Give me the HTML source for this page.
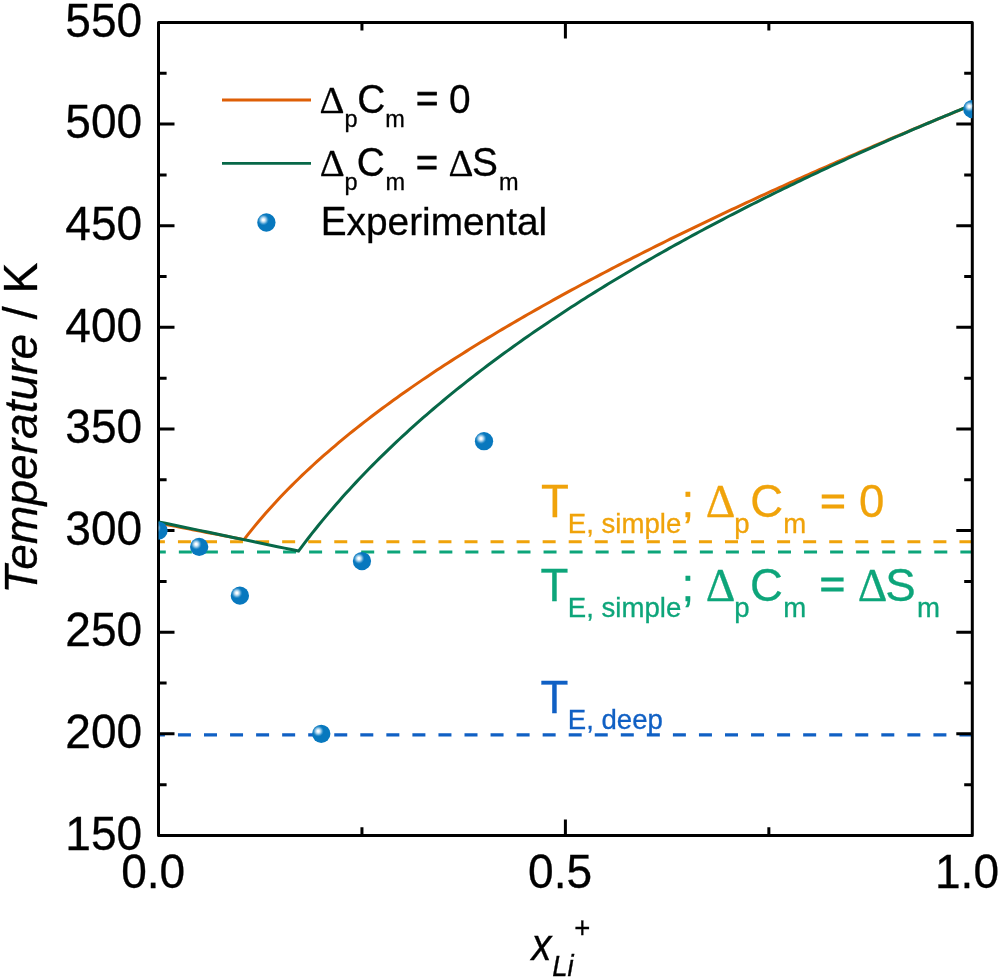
<!DOCTYPE html>
<html lang="en"><head><meta charset="utf-8"><title>Phase diagram</title>
<style>html,body{margin:0;padding:0;background:#fff}body{width:1000px;height:980px;overflow:hidden}svg{display:block;filter:blur(0.4px)}</style>
</head><body>
<svg width="1000" height="980" viewBox="0 0 1000 980">
<defs>
<radialGradient id="ball" cx="0.335" cy="0.355" r="0.30"><stop offset="0" stop-color="#ffffff"/><stop offset="0.18" stop-color="#fbfdff"/><stop offset="0.5" stop-color="#9ccbe9"/><stop offset="0.8" stop-color="#2f8fcb"/><stop offset="1" stop-color="#0878be"/></radialGradient>
<clipPath id="plot"><rect x="158.5" y="22.5" width="813.8" height="812.95"/></clipPath>
</defs>
<rect width="1000" height="980" fill="#ffffff"/>
<path d="M151.9 541.70H972.3" stroke="#F0A30A" stroke-width="3.0" stroke-dasharray="13 13.05" fill="none" clip-path="url(#plot)"/>
<path d="M152.8 552.00H972.3" stroke="#0DA57A" stroke-width="3.0" stroke-dasharray="13 13.05" fill="none" clip-path="url(#plot)"/>
<path d="M151.9 734.90H972.3" stroke="#1060C4" stroke-width="3.2" stroke-dasharray="13 13.05" fill="none" clip-path="url(#plot)"/>
<path d="M158.5 784.64h8.1M972.3 784.64h-8.1M158.5 733.83h16.0M972.3 733.83h-16.0M158.5 683.02h8.1M972.3 683.02h-8.1M158.5 632.21h16.0M972.3 632.21h-16.0M158.5 581.40h8.1M972.3 581.40h-8.1M158.5 530.59h16.0M972.3 530.59h-16.0M158.5 479.78h8.1M972.3 479.78h-8.1M158.5 428.98h16.0M972.3 428.98h-16.0M158.5 378.17h8.1M972.3 378.17h-8.1M158.5 327.36h16.0M972.3 327.36h-16.0M158.5 276.55h8.1M972.3 276.55h-8.1M158.5 225.74h16.0M972.3 225.74h-16.0M158.5 174.93h8.1M972.3 174.93h-8.1M158.5 124.12h16.0M972.3 124.12h-16.0M158.5 73.31h8.1M972.3 73.31h-8.1M361.95 835.45v-8.1M361.95 22.5v8.1M565.40 835.45v-16.0M565.40 22.5v16.0M768.85 835.45v-8.1M768.85 22.5v8.1" stroke="#000" stroke-width="3.0" fill="none"/>
<rect x="158.5" y="22.5" width="813.8" height="812.95" stroke="#000" stroke-width="3.0" fill="none" stroke-linejoin="round"/>
<g clip-path="url(#plot)" fill="none" stroke-linejoin="miter" stroke-width="3.0">
<path d="M158.50 523.07 L162.78 523.90 L167.05 524.73 L171.32 525.55 L175.60 526.38 L179.88 527.21 L184.15 528.04 L188.43 528.86 L192.70 529.69 L196.97 530.52 L201.25 531.34 L205.53 532.17 L209.80 533.00 L214.08 533.83 L218.35 534.65 L222.62 535.48 L226.90 536.31 L231.18 537.13 L235.45 537.96 L239.73 538.79 L244.00 539.61 L247.64 534.91 L251.28 530.32 L254.92 525.85 L258.57 521.47 L262.21 517.20 L265.85 513.01 L269.49 508.91 L273.13 504.89 L276.77 500.95 L280.42 497.08 L284.06 493.28 L287.70 489.55 L291.34 485.88 L294.98 482.26 L298.62 478.71 L302.26 475.20 L305.91 471.75 L309.55 468.35 L313.19 465.00 L316.83 461.69 L320.47 458.43 L324.11 455.20 L327.75 452.02 L331.40 448.88 L335.04 445.77 L338.68 442.71 L342.32 439.67 L345.96 436.67 L349.60 433.70 L353.25 430.77 L356.89 427.86 L360.53 424.99 L364.17 422.14 L367.81 419.32 L371.45 416.53 L375.09 413.76 L378.74 411.02 L382.38 408.31 L386.02 405.61 L389.66 402.94 L393.30 400.30 L396.94 397.67 L400.58 395.07 L404.23 392.49 L407.87 389.93 L411.51 387.39 L415.15 384.87 L418.79 382.37 L422.43 379.88 L426.07 377.41 L429.72 374.97 L433.36 372.53 L437.00 370.12 L440.64 367.72 L444.28 365.34 L447.92 362.97 L451.57 360.62 L455.21 358.29 L458.85 355.97 L462.49 353.66 L466.13 351.37 L469.77 349.09 L473.41 346.82 L477.06 344.57 L480.70 342.33 L484.34 340.10 L487.98 337.89 L491.62 335.69 L495.26 333.50 L498.90 331.32 L502.55 329.16 L506.19 327.00 L509.83 324.86 L513.47 322.72 L517.11 320.60 L520.75 318.49 L524.40 316.39 L528.04 314.30 L531.68 312.22 L535.32 310.15 L538.96 308.09 L542.60 306.03 L546.24 303.99 L549.89 301.96 L553.53 299.93 L557.17 297.92 L560.81 295.91 L564.45 293.91 L568.09 291.92 L571.74 289.94 L575.38 287.97 L579.02 286.01 L582.66 284.05 L586.30 282.10 L589.94 280.16 L593.58 278.23 L597.23 276.30 L600.87 274.38 L604.51 272.47 L608.15 270.57 L611.79 268.67 L615.43 266.78 L619.07 264.90 L622.72 263.02 L626.36 261.15 L630.00 259.29 L633.64 257.43 L637.28 255.58 L640.92 253.74 L644.57 251.90 L648.21 250.07 L651.85 248.24 L655.49 246.42 L659.13 244.61 L662.77 242.80 L666.41 241.00 L670.06 239.20 L673.70 237.41 L677.34 235.63 L680.98 233.85 L684.62 232.08 L688.26 230.31 L691.90 228.54 L695.55 226.79 L699.19 225.03 L702.83 223.28 L706.47 221.54 L710.11 219.80 L713.75 218.07 L717.39 216.34 L721.04 214.62 L724.68 212.90 L728.32 211.19 L731.96 209.48 L735.60 207.77 L739.24 206.07 L742.89 204.38 L746.53 202.69 L750.17 201.00 L753.81 199.32 L757.45 197.64 L761.09 195.97 L764.73 194.30 L768.38 192.63 L772.02 190.97 L775.66 189.31 L779.30 187.66 L782.94 186.01 L786.58 184.36 L790.23 182.72 L793.87 181.08 L797.51 179.45 L801.15 177.82 L804.79 176.19 L808.43 174.57 L812.07 172.95 L815.72 171.33 L819.36 169.72 L823.00 168.11 L826.64 166.51 L830.28 164.91 L833.92 163.31 L837.56 161.71 L841.21 160.12 L844.85 158.53 L848.49 156.95 L852.13 155.37 L855.77 153.79 L859.41 152.21 L863.05 150.64 L866.70 149.07 L870.34 147.51 L873.98 145.94 L877.62 144.38 L881.26 142.83 L884.90 141.27 L888.55 139.72 L892.19 138.17 L895.83 136.63 L899.47 135.09 L903.11 133.55 L906.75 132.01 L910.39 130.48 L914.04 128.95 L917.68 127.42 L921.32 125.89 L924.96 124.37 L928.60 122.85 L932.24 121.33 L935.88 119.82 L939.53 118.31 L943.17 116.80 L946.81 115.29 L950.45 113.79 L954.09 112.28 L957.73 110.78 L961.38 109.29 L965.02 107.79 L968.66 106.30 L972.30 104.81" stroke="#DE5F06"/>
<path d="M158.50 521.85 L165.50 523.31 L172.50 524.77 L179.50 526.23 L186.50 527.69 L193.50 529.15 L200.50 530.61 L207.50 532.07 L214.50 533.53 L221.50 534.99 L228.50 536.45 L235.50 537.91 L242.50 539.37 L249.50 540.83 L256.50 542.29 L263.50 543.75 L270.50 545.21 L277.50 546.67 L284.50 548.13 L291.50 549.58 L298.50 551.04 L301.87 546.54 L305.24 542.11 L308.61 537.74 L311.98 533.44 L315.35 529.21 L318.71 525.03 L322.08 520.92 L325.45 516.86 L328.82 512.86 L332.19 508.91 L335.56 505.01 L338.93 501.16 L342.30 497.36 L345.67 493.61 L349.03 489.91 L352.40 486.24 L355.77 482.63 L359.14 479.05 L362.51 475.51 L365.88 472.02 L369.25 468.56 L372.62 465.14 L375.99 461.75 L379.36 458.40 L382.73 455.09 L386.09 451.81 L389.46 448.56 L392.83 445.34 L396.20 442.16 L399.57 439.00 L402.94 435.88 L406.31 432.78 L409.68 429.72 L413.05 426.68 L416.41 423.67 L419.78 420.68 L423.15 417.72 L426.52 414.79 L429.89 411.88 L433.26 408.99 L436.63 406.13 L440.00 403.30 L443.37 400.48 L446.74 397.69 L450.10 394.92 L453.47 392.18 L456.84 389.45 L460.21 386.74 L463.58 384.06 L466.95 381.39 L470.32 378.75 L473.69 376.12 L477.06 373.52 L480.43 370.93 L483.79 368.36 L487.16 365.81 L490.53 363.27 L493.90 360.75 L497.27 358.25 L500.64 355.77 L504.01 353.31 L507.38 350.86 L510.75 348.42 L514.12 346.00 L517.49 343.60 L520.85 341.21 L524.22 338.84 L527.59 336.48 L530.96 334.14 L534.33 331.81 L537.70 329.50 L541.07 327.20 L544.44 324.91 L547.81 322.64 L551.17 320.38 L554.54 318.13 L557.91 315.90 L561.28 313.68 L564.65 311.47 L568.02 309.27 L571.39 307.09 L574.76 304.92 L578.13 302.76 L581.50 300.61 L584.87 298.47 L588.23 296.35 L591.60 294.23 L594.97 292.13 L598.34 290.04 L601.71 287.96 L605.08 285.89 L608.45 283.83 L611.82 281.78 L615.19 279.74 L618.56 277.71 L621.92 275.70 L625.29 273.69 L628.66 271.69 L632.03 269.70 L635.40 267.72 L638.77 265.75 L642.14 263.79 L645.51 261.84 L648.88 259.90 L652.24 257.97 L655.61 256.04 L658.98 254.13 L662.35 252.22 L665.72 250.32 L669.09 248.43 L672.46 246.55 L675.83 244.68 L679.20 242.82 L682.57 240.96 L685.93 239.11 L689.30 237.27 L692.67 235.44 L696.04 233.62 L699.41 231.80 L702.78 229.99 L706.15 228.19 L709.52 226.40 L712.89 224.61 L716.26 222.83 L719.62 221.06 L722.99 219.30 L726.36 217.54 L729.73 215.79 L733.10 214.05 L736.47 212.31 L739.84 210.58 L743.21 208.86 L746.58 207.14 L749.95 205.43 L753.32 203.73 L756.68 202.04 L760.05 200.35 L763.42 198.66 L766.79 196.99 L770.16 195.32 L773.53 193.65 L776.90 191.99 L780.27 190.34 L783.64 188.70 L787.00 187.06 L790.37 185.42 L793.74 183.80 L797.11 182.17 L800.48 180.56 L803.85 178.95 L807.22 177.34 L810.59 175.74 L813.96 174.15 L817.33 172.56 L820.69 170.98 L824.06 169.40 L827.43 167.83 L830.80 166.26 L834.17 164.70 L837.54 163.15 L840.91 161.60 L844.28 160.05 L847.65 158.51 L851.02 156.98 L854.38 155.45 L857.75 153.92 L861.12 152.40 L864.49 150.89 L867.86 149.38 L871.23 147.87 L874.60 146.37 L877.97 144.88 L881.34 143.39 L884.71 141.90 L888.08 140.42 L891.44 138.94 L894.81 137.47 L898.18 136.00 L901.55 134.54 L904.92 133.08 L908.29 131.63 L911.66 130.18 L915.03 128.74 L918.40 127.29 L921.76 125.86 L925.13 124.43 L928.50 123.00 L931.87 121.57 L935.24 120.16 L938.61 118.74 L941.98 117.33 L945.35 115.92 L948.72 114.52 L952.09 113.12 L955.45 111.73 L958.82 110.33 L962.19 108.95 L965.56 107.57 L968.93 106.19 L972.30 104.81" stroke="#076848"/>
<circle cx="158.50" cy="530.59" r="9.15" fill="url(#ball)" stroke="none"/>
<circle cx="199.19" cy="546.85" r="9.15" fill="url(#ball)" stroke="none"/>
<circle cx="239.88" cy="595.63" r="9.15" fill="url(#ball)" stroke="none"/>
<circle cx="321.26" cy="733.83" r="9.15" fill="url(#ball)" stroke="none"/>
<circle cx="361.95" cy="561.08" r="9.15" fill="url(#ball)" stroke="none"/>
<circle cx="484.02" cy="441.17" r="9.15" fill="url(#ball)" stroke="none"/>
<circle cx="972.30" cy="109.08" r="9.15" fill="url(#ball)" stroke="none"/>
</g>
<text transform="translate(142.20 849.65) scale(1 1.045)" font-family='"Liberation Sans",Arial,sans-serif' font-size="46.1" fill="#000" text-anchor="end" stroke="#000" stroke-width="0.3">150</text>
<text transform="translate(142.20 748.03) scale(1 1.045)" font-family='"Liberation Sans",Arial,sans-serif' font-size="46.1" fill="#000" text-anchor="end" stroke="#000" stroke-width="0.3">200</text>
<text transform="translate(142.20 646.41) scale(1 1.045)" font-family='"Liberation Sans",Arial,sans-serif' font-size="46.1" fill="#000" text-anchor="end" stroke="#000" stroke-width="0.3">250</text>
<text transform="translate(142.20 544.79) scale(1 1.045)" font-family='"Liberation Sans",Arial,sans-serif' font-size="46.1" fill="#000" text-anchor="end" stroke="#000" stroke-width="0.3">300</text>
<text transform="translate(142.20 443.18) scale(1 1.045)" font-family='"Liberation Sans",Arial,sans-serif' font-size="46.1" fill="#000" text-anchor="end" stroke="#000" stroke-width="0.3">350</text>
<text transform="translate(142.20 341.56) scale(1 1.045)" font-family='"Liberation Sans",Arial,sans-serif' font-size="46.1" fill="#000" text-anchor="end" stroke="#000" stroke-width="0.3">400</text>
<text transform="translate(142.20 239.94) scale(1 1.045)" font-family='"Liberation Sans",Arial,sans-serif' font-size="46.1" fill="#000" text-anchor="end" stroke="#000" stroke-width="0.3">450</text>
<text transform="translate(142.20 138.32) scale(1 1.045)" font-family='"Liberation Sans",Arial,sans-serif' font-size="46.1" fill="#000" text-anchor="end" stroke="#000" stroke-width="0.3">500</text>
<text transform="translate(142.20 36.70) scale(1 1.045)" font-family='"Liberation Sans",Arial,sans-serif' font-size="46.1" fill="#000" text-anchor="end" stroke="#000" stroke-width="0.3">550</text>
<text transform="translate(153.20 887.60) scale(1 1.045)" font-family='"Liberation Sans",Arial,sans-serif' font-size="46.1" fill="#000" text-anchor="middle" stroke="#000" stroke-width="0.3">0.0</text>
<text transform="translate(560.10 887.60) scale(1 1.045)" font-family='"Liberation Sans",Arial,sans-serif' font-size="46.1" fill="#000" text-anchor="middle" stroke="#000" stroke-width="0.3">0.5</text>
<text transform="translate(967.00 887.60) scale(1 1.045)" font-family='"Liberation Sans",Arial,sans-serif' font-size="46.1" fill="#000" text-anchor="middle" stroke="#000" stroke-width="0.3">1.0</text>
<g transform="translate(36.9 589.5) rotate(-90)">
<text transform="scale(1 1.02)" font-family='"Liberation Sans",Arial,sans-serif' font-size="46.42" fill="#000" stroke="#000" stroke-width="0.3"><tspan x="-4.17" font-style="italic" font-size="46.15">Temperature</tspan><tspan dx="1.5"> / K</tspan></text>
</g>
<text transform="translate(531.50 960.00) scale(0.93 1.05)" font-family='"Liberation Sans",Arial,sans-serif' font-size="43.0" font-style="italic" fill="#000" text-anchor="start" stroke="#000" stroke-width="0.3">x</text>
<text transform="translate(552.15 976.00) scale(1 1.05)" font-family='"Liberation Sans",Arial,sans-serif' font-size="27.5" font-style="italic" fill="#000" text-anchor="start" stroke="#000" stroke-width="0.3">Li</text>
<text transform="translate(574.26 938.00) scale(1 1.05)" font-family='"Liberation Sans",Arial,sans-serif' font-size="27.5" fill="#000" text-anchor="start" stroke="#000" stroke-width="0.3">+</text>
<path d="M222 100H311" stroke="#DE5F06" stroke-width="2.8" fill="none"/>
<path d="M222 163.4H311" stroke="#076848" stroke-width="2.8" fill="none"/>
<circle cx="266.4" cy="222.5" r="9.15" fill="url(#ball)"/>
<text transform="translate(319.42 113.00) scale(1 1.0)" font-family='"Liberation Serif","Times New Roman",serif' font-size="38.8" fill="#000" text-anchor="start" stroke="#000" stroke-width="0.3">Δ</text>
<text transform="translate(344.49 126.60) scale(1 1.0)" font-family='"Liberation Sans",Arial,sans-serif' font-size="23.5" fill="#000" text-anchor="start" stroke="#000" stroke-width="0.3">p</text>
<text transform="translate(357.33 113.00) scale(1 1.05)" font-family='"Liberation Sans",Arial,sans-serif' font-size="38.8" fill="#000" text-anchor="start" stroke="#000" stroke-width="0.3">C</text>
<text transform="translate(385.24 126.60) scale(1 1.0)" font-family='"Liberation Sans",Arial,sans-serif' font-size="23.5" fill="#000" text-anchor="start" stroke="#000" stroke-width="0.3">m</text>
<text transform="translate(415.99 112.29) scale(0.9815 0.9836)" font-family='"Liberation Sans",Arial,sans-serif' font-size="38.8" fill="#000" text-anchor="start" stroke="#000" stroke-width="0.92">=</text>
<text transform="translate(449.08 113.00) scale(1 1.05)" font-family='"Liberation Sans",Arial,sans-serif' font-size="38.8" fill="#000" text-anchor="start" stroke="#000" stroke-width="0.3">0</text>
<text transform="translate(319.82 176.30) scale(1 1.0)" font-family='"Liberation Serif","Times New Roman",serif' font-size="38.8" fill="#000" text-anchor="start" stroke="#000" stroke-width="0.3">Δ</text>
<text transform="translate(344.49 189.90) scale(1 1.0)" font-family='"Liberation Sans",Arial,sans-serif' font-size="23.5" fill="#000" text-anchor="start" stroke="#000" stroke-width="0.3">p</text>
<text transform="translate(356.83 176.30) scale(1 1.05)" font-family='"Liberation Sans",Arial,sans-serif' font-size="38.8" fill="#000" text-anchor="start" stroke="#000" stroke-width="0.3">C</text>
<text transform="translate(385.44 189.90) scale(1 1.0)" font-family='"Liberation Sans",Arial,sans-serif' font-size="23.5" fill="#000" text-anchor="start" stroke="#000" stroke-width="0.3">m</text>
<text transform="translate(416.11 175.59) scale(0.9709 0.9836)" font-family='"Liberation Sans",Arial,sans-serif' font-size="38.8" fill="#000" text-anchor="start" stroke="#000" stroke-width="0.92">=</text>
<text transform="translate(448.52 176.30) scale(1 1.0)" font-family='"Liberation Serif","Times New Roman",serif' font-size="38.8" fill="#000" text-anchor="start" stroke="#000" stroke-width="0.3">Δ</text>
<text transform="translate(472.04 176.30) scale(1 1.05)" font-family='"Liberation Sans",Arial,sans-serif' font-size="38.8" fill="#000" text-anchor="start" stroke="#000" stroke-width="0.3">S</text>
<text transform="translate(498.94 189.90) scale(1 1.0)" font-family='"Liberation Sans",Arial,sans-serif' font-size="23.5" fill="#000" text-anchor="start" stroke="#000" stroke-width="0.3">m</text>
<text transform="translate(320.72 235.20) scale(1 1.05)" font-family='"Liberation Sans",Arial,sans-serif' font-size="38.8" fill="#000" text-anchor="start" stroke="#000" stroke-width="0.3">E</text>
<text transform="translate(346.60 235.20) scale(1 1.0)" font-family='"Liberation Sans",Arial,sans-serif' font-size="38.8" fill="#000" text-anchor="start" stroke="#000" stroke-width="0.3">xperimental</text>
<text transform="translate(540.98 517.20) scale(1 1.03)" font-family='"Liberation Sans",Arial,sans-serif' font-size="45.6" fill="#F0A30A" text-anchor="start" stroke="#F0A30A" stroke-width="0.3">T</text>
<text transform="translate(567.84 533.20) scale(1 1.0)" font-family='"Liberation Sans",Arial,sans-serif' font-size="27.6" fill="#F0A30A" text-anchor="start" stroke="#F0A30A" stroke-width="0.3">E, simple</text>
<text transform="translate(681.40 517.20) scale(1 1.03)" font-family='"Liberation Sans",Arial,sans-serif' font-size="45.6" fill="#F0A30A" text-anchor="start" stroke="#F0A30A" stroke-width="0.3">;</text>
<text transform="translate(705.75 517.20) scale(1 1.0)" font-family='"Liberation Serif","Times New Roman",serif' font-size="46.0" fill="#F0A30A" text-anchor="start" stroke="#F0A30A" stroke-width="0.3">Δ</text>
<text transform="translate(734.22 533.20) scale(1 1.0)" font-family='"Liberation Sans",Arial,sans-serif' font-size="27.6" fill="#F0A30A" text-anchor="start" stroke="#F0A30A" stroke-width="0.3">p</text>
<text transform="translate(750.28 517.20) scale(1 1.03)" font-family='"Liberation Sans",Arial,sans-serif' font-size="45.6" fill="#F0A30A" text-anchor="start" stroke="#F0A30A" stroke-width="0.3">C</text>
<text transform="translate(783.37 533.20) scale(1 1.0)" font-family='"Liberation Sans",Arial,sans-serif' font-size="27.6" fill="#F0A30A" text-anchor="start" stroke="#F0A30A" stroke-width="0.3">m</text>
<text transform="translate(820.28 514.98) scale(0.9525 0.8913)" font-family='"Liberation Sans",Arial,sans-serif' font-size="45.6" fill="#F0A30A" text-anchor="start" stroke="#F0A30A" stroke-width="1.30">=</text>
<text transform="translate(859.12 517.20) scale(1 1.03)" font-family='"Liberation Sans",Arial,sans-serif' font-size="45.6" fill="#F0A30A" text-anchor="start" stroke="#F0A30A" stroke-width="0.3">0</text>
<text transform="translate(540.38 600.50) scale(1 1.03)" font-family='"Liberation Sans",Arial,sans-serif' font-size="45.6" fill="#0DA57A" text-anchor="start" stroke="#0DA57A" stroke-width="0.3">T</text>
<text transform="translate(567.84 616.50) scale(1 1.0)" font-family='"Liberation Sans",Arial,sans-serif' font-size="27.6" fill="#0DA57A" text-anchor="start" stroke="#0DA57A" stroke-width="0.3">E, simple</text>
<text transform="translate(681.40 600.50) scale(1 1.03)" font-family='"Liberation Sans",Arial,sans-serif' font-size="45.6" fill="#0DA57A" text-anchor="start" stroke="#0DA57A" stroke-width="0.3">;</text>
<text transform="translate(705.75 600.50) scale(1 1.0)" font-family='"Liberation Serif","Times New Roman",serif' font-size="46.0" fill="#0DA57A" text-anchor="start" stroke="#0DA57A" stroke-width="0.3">Δ</text>
<text transform="translate(734.22 616.50) scale(1 1.0)" font-family='"Liberation Sans",Arial,sans-serif' font-size="27.6" fill="#0DA57A" text-anchor="start" stroke="#0DA57A" stroke-width="0.3">p</text>
<text transform="translate(749.98 600.50) scale(1 1.03)" font-family='"Liberation Sans",Arial,sans-serif' font-size="45.6" fill="#0DA57A" text-anchor="start" stroke="#0DA57A" stroke-width="0.3">C</text>
<text transform="translate(783.37 616.50) scale(1 1.0)" font-family='"Liberation Sans",Arial,sans-serif' font-size="27.6" fill="#0DA57A" text-anchor="start" stroke="#0DA57A" stroke-width="0.3">m</text>
<text transform="translate(819.78 598.38) scale(0.9525 0.8981)" font-family='"Liberation Sans",Arial,sans-serif' font-size="45.6" fill="#0DA57A" text-anchor="start" stroke="#0DA57A" stroke-width="1.30">=</text>
<text transform="translate(857.65 600.50) scale(1 1.0)" font-family='"Liberation Serif","Times New Roman",serif' font-size="46.0" fill="#0DA57A" text-anchor="start" stroke="#0DA57A" stroke-width="0.3">Δ</text>
<text transform="translate(885.23 600.50) scale(1 1.03)" font-family='"Liberation Sans",Arial,sans-serif' font-size="45.6" fill="#0DA57A" text-anchor="start" stroke="#0DA57A" stroke-width="0.3">S</text>
<text transform="translate(916.97 616.50) scale(1 1.0)" font-family='"Liberation Sans",Arial,sans-serif' font-size="27.6" fill="#0DA57A" text-anchor="start" stroke="#0DA57A" stroke-width="0.3">m</text>
<text transform="translate(540.58 712.70) scale(1 1.03)" font-family='"Liberation Sans",Arial,sans-serif' font-size="45.6" fill="#1060C4" text-anchor="start" stroke="#1060C4" stroke-width="0.3">T</text>
<text transform="translate(567.74 728.70) scale(1 1.0)" font-family='"Liberation Sans",Arial,sans-serif' font-size="27.6" fill="#1060C4" text-anchor="start" stroke="#1060C4" stroke-width="0.3">E, deep</text>
</svg>
</body></html>
